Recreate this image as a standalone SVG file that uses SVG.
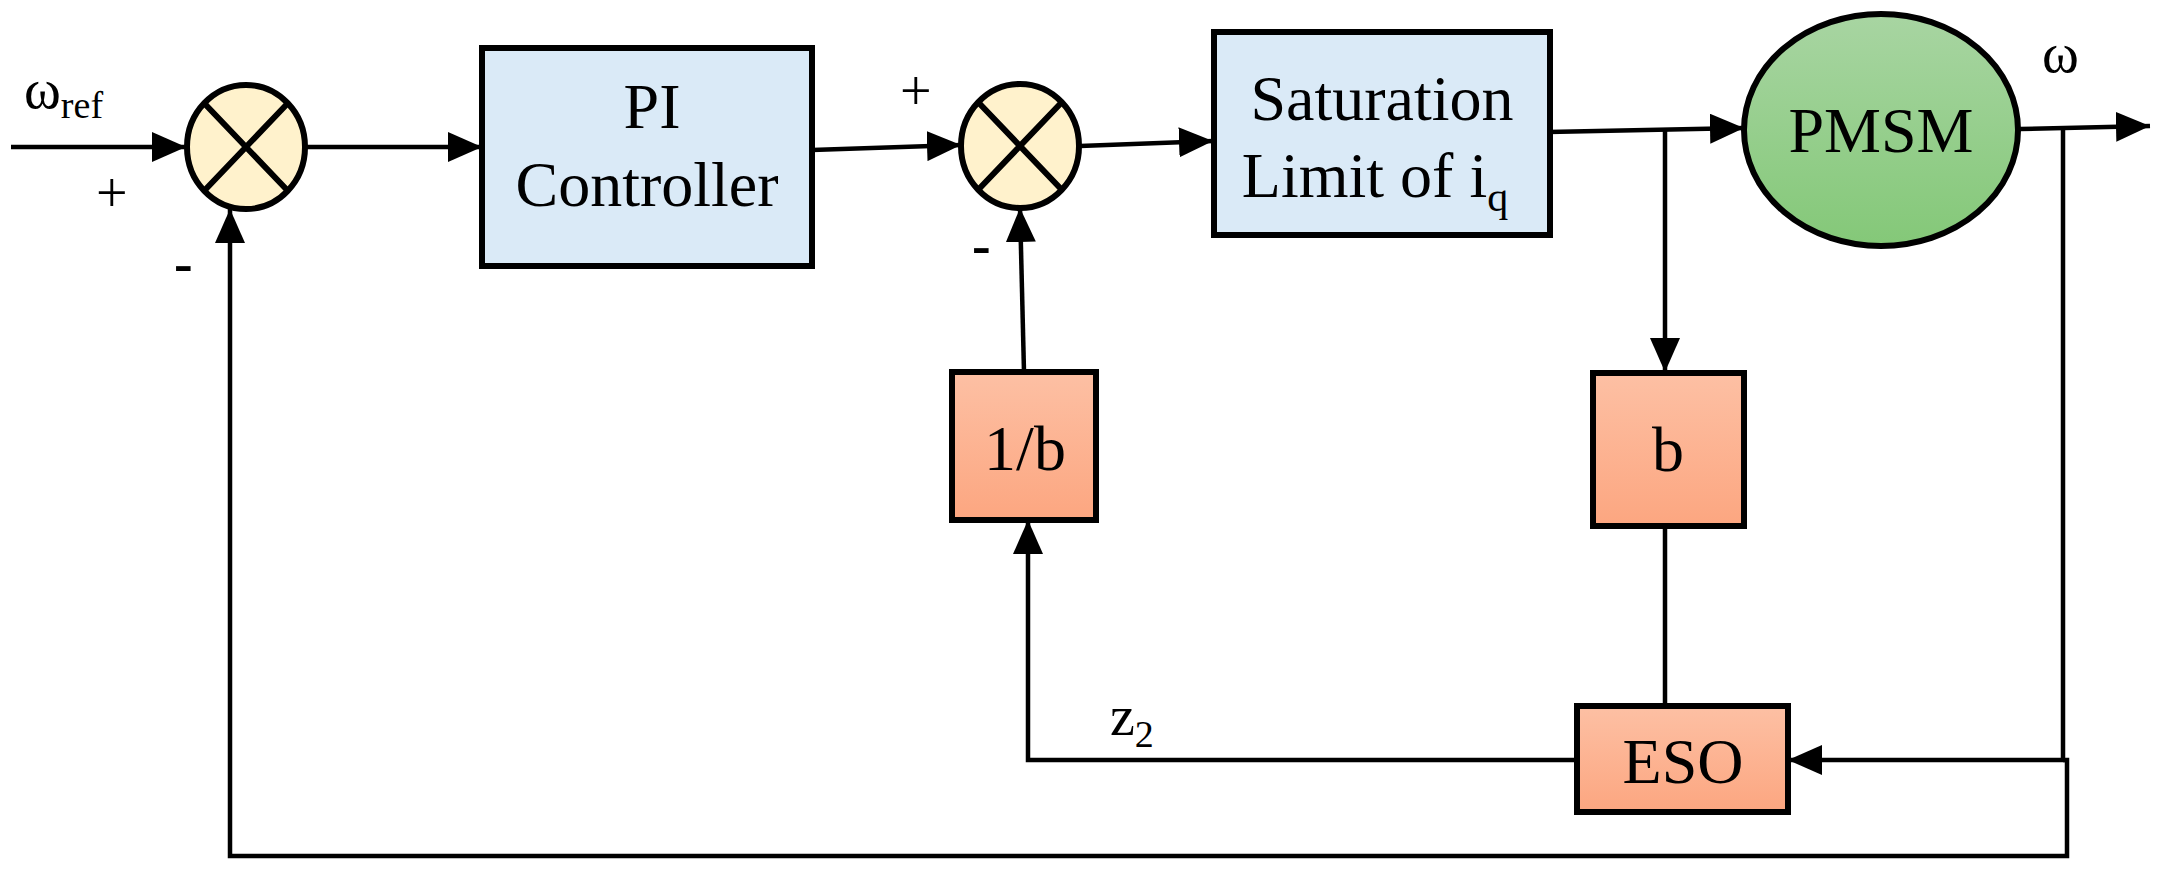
<svg xmlns="http://www.w3.org/2000/svg" width="2158" height="873" viewBox="0 0 2158 873">
<style>
.ln{fill:none;stroke:#000;stroke-width:4.5}
.bx{stroke:#000;stroke-width:6}
.t{font-family:"Liberation Serif","Times New Roman",serif;font-size:64px;fill:#000;text-anchor:middle}
.s{font-family:"Liberation Serif","Times New Roman",serif;fill:#000}
</style>
<defs>
<marker id="a" markerUnits="userSpaceOnUse" markerWidth="36" markerHeight="30" refX="34" refY="15" orient="auto"><path d="M0,0 L34,15 L0,30 Z" fill="#000"/></marker>
<linearGradient id="g" x1="0" y1="0" x2="0" y2="1"><stop offset="0" stop-color="#a8d5a2"/><stop offset="1" stop-color="#84c878"/></linearGradient>
<linearGradient id="o" x1="0" y1="0" x2="0" y2="1"><stop offset="0" stop-color="#fdc0a4"/><stop offset="1" stop-color="#fca680"/></linearGradient>
</defs>
<g id="connectors">
<path class="ln" d="M11,147 H186" marker-end="url(#a)"/>
<path class="ln" d="M306,147 H482" marker-end="url(#a)"/>
<path class="ln" d="M812,150 L961,145" marker-end="url(#a)"/>
<path class="ln" d="M1080,146 L1213,141" marker-end="url(#a)"/>
<path class="ln" d="M1548,132 L1744,128" marker-end="url(#a)"/>
<path class="ln" d="M1665,130 V372" marker-end="url(#a)"/>
<path class="ln" d="M2020,129 L2150,126" marker-end="url(#a)"/>
<path class="ln" d="M2063,127 V760 H1788" marker-end="url(#a)"/>
<path class="ln" d="M2063,760 H2067 V856 H230 V209" marker-end="url(#a)"/>
<path class="ln" d="M1665,526 V706"/>
<path class="ln" d="M1577,760 H1028 V520" marker-end="url(#a)"/>
<path class="ln" d="M1024,372 L1020,208" marker-end="url(#a)"/>
</g>
<g id="sum1"><ellipse class="bx" cx="246" cy="147" rx="59" ry="62" fill="#fff2cc"/><path class="ln" d="M204,103 L288,191 M288,103 L204,191" style="stroke-width:6"/></g>
<g id="sum2"><ellipse class="bx" cx="1020" cy="146" rx="59" ry="62" fill="#fff2cc"/><path class="ln" d="M978,102 L1062,190 M1062,102 L978,190" style="stroke-width:6"/></g>
<g id="pi"><rect class="bx" x="482" y="48" width="330" height="218" fill="#daeaf7"/><text class="t" x="652" y="128">PI</text><text class="t" x="647" y="206">Controller</text></g>
<g id="sat"><rect class="bx" x="1214" y="32" width="336" height="203" fill="#daeaf7"/><text class="t" x="1382" y="120">Saturation</text><text class="t" x="1375" y="197">Limit of i<tspan font-size="42" dy="14">q</tspan></text></g>
<g id="pmsm"><ellipse class="bx" cx="1881" cy="130" rx="137" ry="116" fill="url(#g)"/><text class="t" x="1881" y="152">PMSM</text></g>
<g id="inv"><rect class="bx" x="952" y="372" width="144" height="148" fill="url(#o)"/><text class="t" x="1025" y="470">1/b</text></g>
<g id="b"><rect class="bx" x="1593" y="373" width="151" height="153" fill="url(#o)"/><text class="t" x="1668" y="471">b</text></g>
<g id="eso"><rect class="bx" x="1577" y="706" width="211" height="106" fill="url(#o)"/><text class="t" x="1683" y="783">ESO</text></g>
<g id="labels">
<text class="s" x="24" y="108" font-size="56">ω<tspan font-size="38" dy="10">ref</tspan></text>
<text class="s" x="96" y="212" font-size="56">+</text>
<text class="s" x="174" y="282" font-size="56" font-weight="bold">-</text>
<text class="s" x="900" y="110" font-size="56">+</text>
<text class="s" x="972" y="264" font-size="56" font-weight="bold">-</text>
<text class="s" x="2042" y="72" font-size="56">ω</text>
<text class="s" x="1110" y="735" font-size="56">z<tspan font-size="38" dy="12">2</tspan></text>
</g>
</svg>
